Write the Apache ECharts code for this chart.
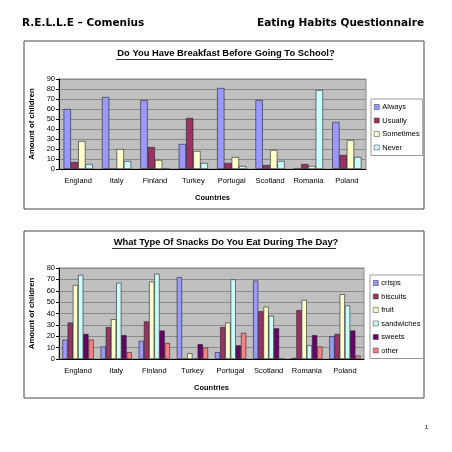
<!DOCTYPE html>
<html><head><meta charset="utf-8">
<script src="https://cdn.jsdelivr.net/npm/echarts@6/dist/echarts.min.js"></script>
<style>html,body{margin:0;padding:0;background:#fff}#c{width:452px;height:452px}</style>
</head><body><div id="c"></div>
<script>
// ---- data ----
const countries = ['England','Italy','Finland','Turkey','Portugal','Scotland','Romania','Poland'];
// Chart 1: Do You Have Breakfast Before Going To School?
const breakfastNames = ['Always','Usually','Sometimes','Never'];
const always    = [60, 72, 69, 25, 81, 69, 0, 47];
const usually   = [7, 0, 22, 51, 6, 4, 5, 14];
const sometimes = [28, 20, 9, 18, 12, 19, 3, 29];
const never     = [5, 8, 0, 6, 3, 8, 79, 12];
// Chart 2: What Type Of Snacks Do You Eat During The Day?
const snackNames = ['crisps','biscuits','fruit','sandwiches','sweets','other'];
const crisps     = [17, 11, 16, 72, 6, 69, 1, 20];
const biscuits   = [32, 28, 33, 0, 28, 42, 43, 22];
const fruit      = [65, 35, 68, 5, 32, 46, 52, 57];
const sandwiches = [74, 67, 75, 0, 70, 38, 12, 47];
const sweets     = [22, 21, 25, 13, 12, 27, 21, 25];
const other      = [17, 6, 14, 10, 23, 0, 11, 3];
const yTicks1 = {min: 0, max: 90, interval: 10};
const yTicks2 = {min: 0, max: 80, interval: 10};

// ---- build ----
const breakfastData = [always, usually, sometimes, never];
const snackData = [crisps, biscuits, fruit, sandwiches, sweets, other];
const colors1 = ['#9999FF','#993366','#FFFFCC','#CCFFFF'];
const colors2 = ['#9999FF','#993366','#FFFFCC','#CCFFFF','#660066','#FF8080'];
const FONT = 'Liberation Sans, Arial, sans-serif';
const HFONT = '"DejaVu Sans", sans-serif';

function xAx(gridIndex){
  return {type:'category', gridIndex, data:countries,
    name:'Countries', nameLocation:'middle', nameGap:25,
    nameTextStyle:{fontFamily:FONT,fontSize:7.5,fontWeight:'bold',color:'#000'},
    axisLine:{lineStyle:{color:'#000',width:1}},
    axisTick:{length:3,lineStyle:{color:'#000'}},
    axisLabel:{interval:0,fontFamily:FONT,fontSize:7.5,color:'#000',margin:8},
    splitLine:{show:false}};
}
function yAx(gridIndex, t){
  return {type:'value', gridIndex, min:t.min, max:t.max, interval:t.interval,
    name:'Amount of children', nameLocation:'middle', nameGap:18, nameRotate:90,
    nameTextStyle:{fontFamily:FONT,fontSize:7.8,fontWeight:'bold',color:'#000'},
    axisLine:{show:true,lineStyle:{color:'#000',width:1}},
    axisTick:{show:true,length:3,lineStyle:{color:'#000'}},
    axisLabel:{fontFamily:FONT,fontSize:7.5,color:'#000',margin:4},
    splitLine:{lineStyle:{color:'#8a8a8a',width:1}}};
}
const series = [];
breakfastNames.forEach((n,i)=>series.push({name:n,type:'bar',xAxisIndex:0,yAxisIndex:0,
  data:breakfastData[i],barGap:'0%',barCategoryGap:'24%',
  itemStyle:{color:colors1[i],borderColor:'#222',borderWidth:0.6}}));
snackNames.forEach((n,i)=>series.push({name:n,type:'bar',xAxisIndex:1,yAxisIndex:1,
  data:snackData[i],barGap:'0%',barCategoryGap:'18%',
  itemStyle:{color:colors2[i],borderColor:'#222',borderWidth:0.6}}));

const legendBase = {orient:'vertical',icon:'rect',itemWidth:5,itemHeight:5,itemGap:5.5,
  backgroundColor:'#fff',borderColor:'#999',borderWidth:1,padding:[4,3,4,3],
  itemStyle:{borderColor:'#333',borderWidth:0.5},
  textStyle:{fontFamily:FONT,fontSize:7.5,color:'#000',padding:[0,0,0,-2]}};

const chart = echarts.init(document.getElementById('c'),null,{renderer:'canvas'});
chart.setOption({
  animation:false,
  backgroundColor:'#fff',
  title:[
    {text:'Do You Have Breakfast Before Going To School?',left:'center',top:49,padding:0,
      textStyle:{fontFamily:FONT,fontSize:9.4,fontWeight:'bold',color:'#000'}},
    {text:'What Type Of Snacks Do You Eat During The Day?',left:'center',top:238,padding:0,
      textStyle:{fontFamily:FONT,fontSize:9.4,fontWeight:'bold',color:'#000'}}
  ],
  legend:[
    Object.assign({},legendBase,{data:breakfastNames,left:371,top:99,width:50}),
    Object.assign({},legendBase,{data:snackNames,left:370,top:275,width:50})
  ],
  grid:[
    {left:59,right:86,top:79,height:90,show:true,backgroundColor:'#C0C0C0',borderColor:'#888',borderWidth:1,containLabel:false},
    {left:59,right:88,top:268,height:91,show:true,backgroundColor:'#C0C0C0',borderColor:'#888',borderWidth:1,containLabel:false}
  ],
  xAxis:[xAx(0),xAx(1)],
  yAxis:[yAx(0,yTicks1),yAx(1,yTicks2)],
  series,
  graphic:[
    {type:'rect',shape:{x:24,y:41,width:400,height:168},style:{fill:'none',stroke:'#444',lineWidth:1},z:-1},
    {type:'rect',shape:{x:24,y:231,width:400,height:167},style:{fill:'none',stroke:'#444',lineWidth:1},z:-1},
    {type:'text',left:22,top:18,style:{text:'R.E.L.L.E – Comenius',font:'bold 10.5px '+HFONT,fill:'#000'}},
    {type:'text',right:28,top:18,style:{text:'Eating Habits Questionnaire',font:'bold 10.5px '+HFONT,fill:'#000'}},
    {type:'text',left:425,top:424,style:{text:'1',font:'6px '+FONT,fill:'#000'}},
    {type:'line',shape:{x1:116,y1:59.5,x2:333,y2:59.5},style:{stroke:'#000',lineWidth:0.8}},
    {type:'line',shape:{x1:112,y1:248.5,x2:336,y2:248.5},style:{stroke:'#000',lineWidth:0.8}}
  ]
});
</script></body></html>
